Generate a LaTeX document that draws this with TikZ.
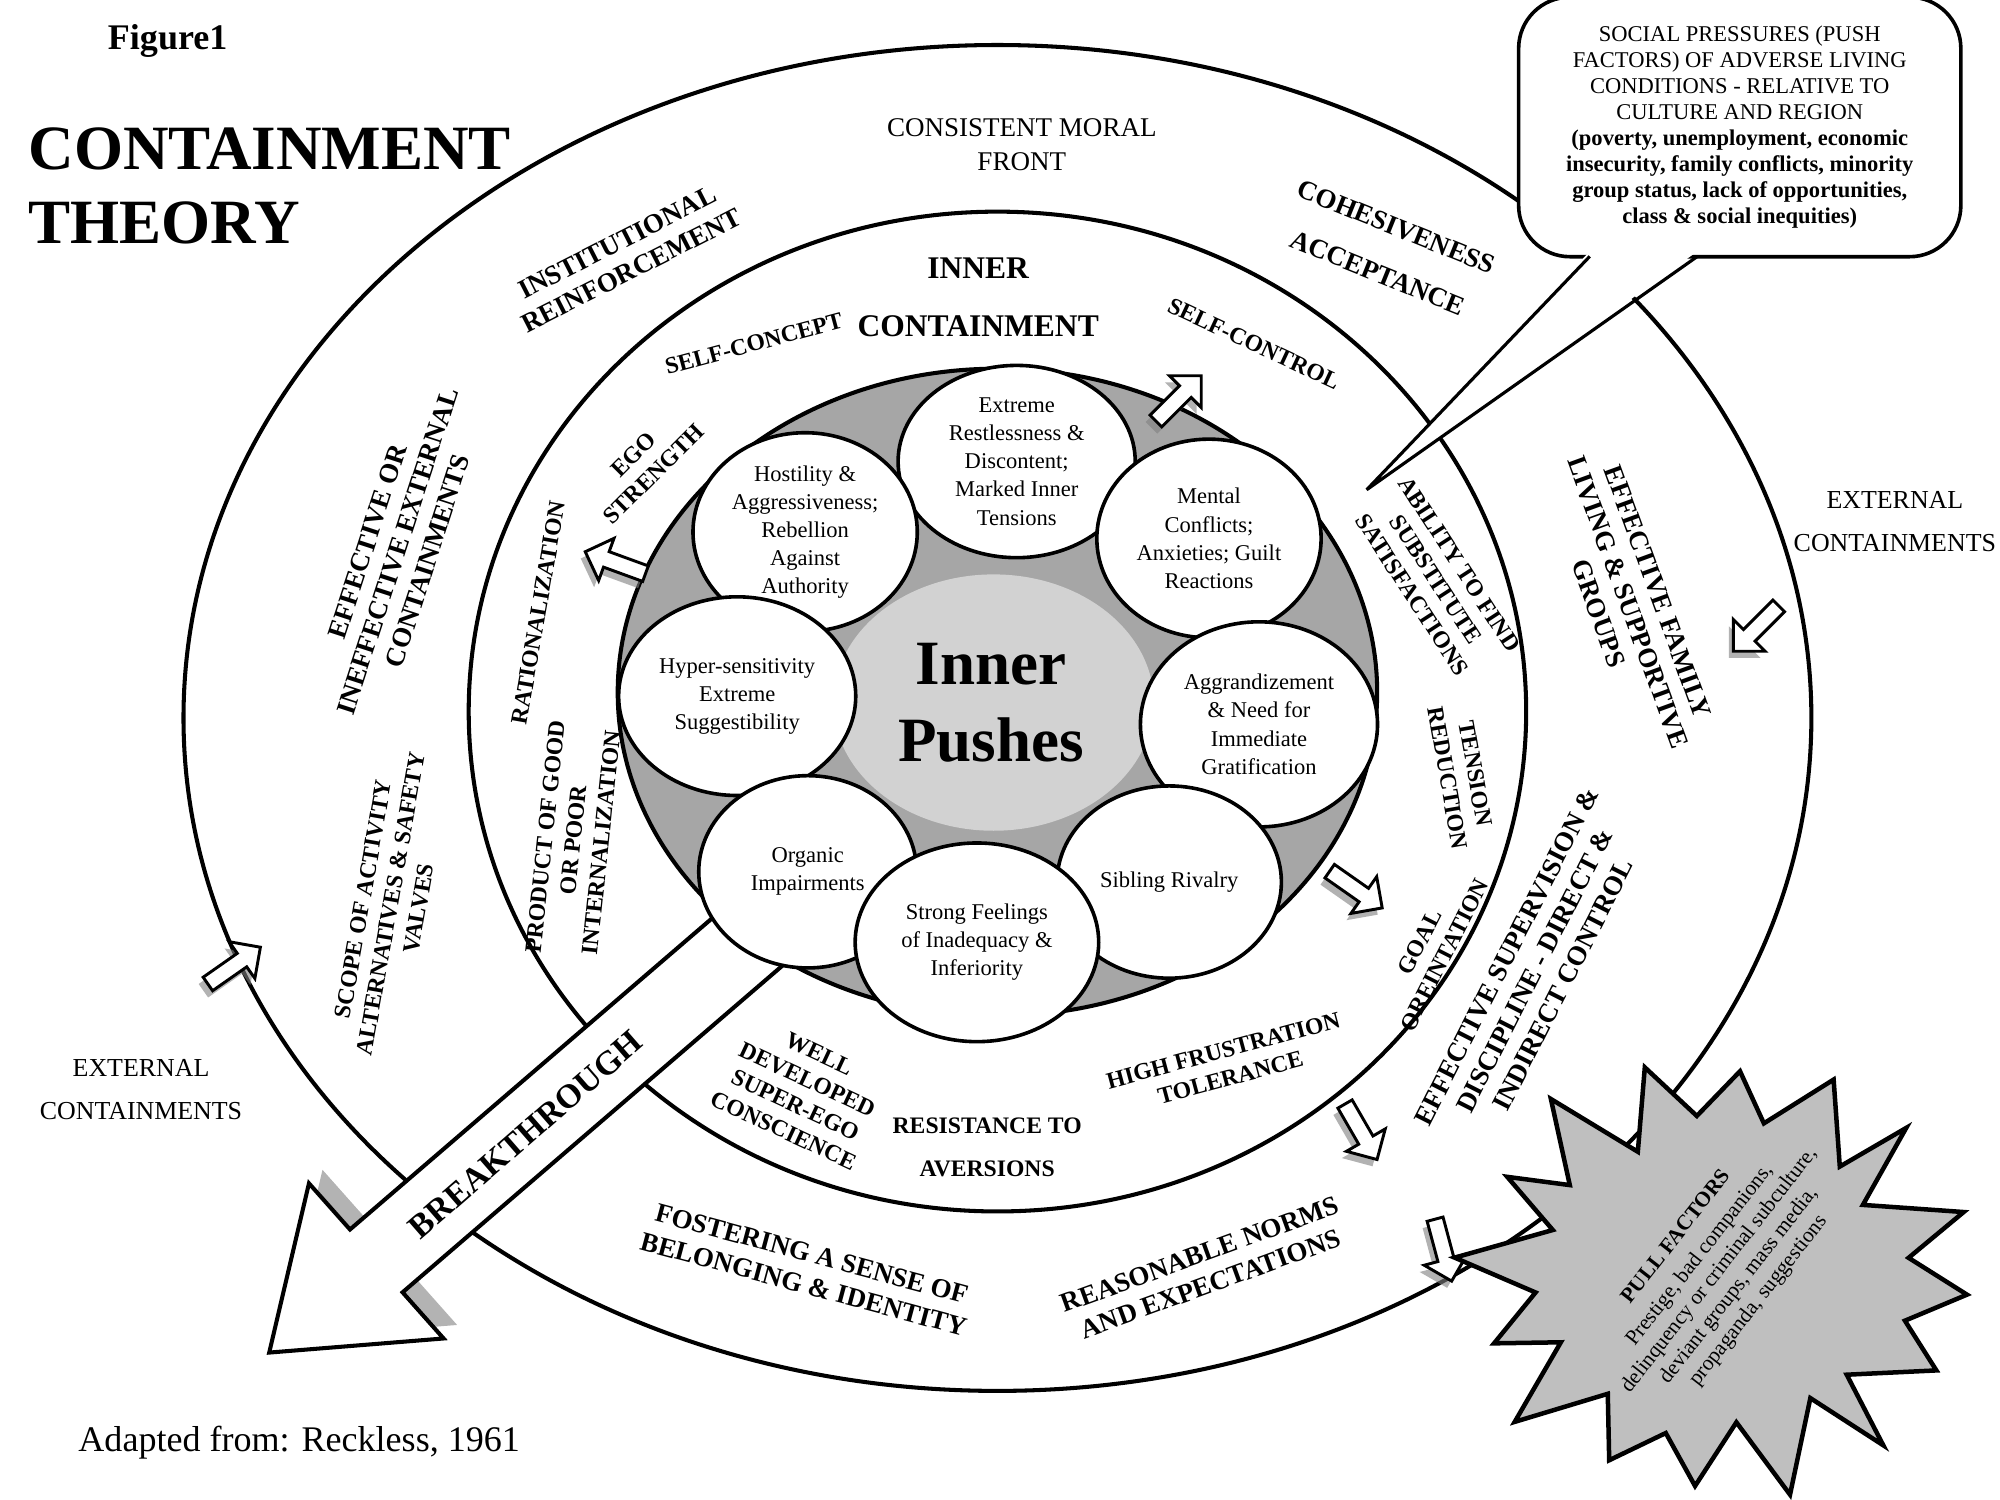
\documentclass[tikz,border=0pt]{standalone}
\usepackage{fontspec}
\setmainfont{Liberation Serif}
\usetikzlibrary{shapes.geometric,shapes.arrows,shadows}

\tikzset{
  ring/.style={draw, ellipse, line width=1.8pt, fill=white, inner sep=0pt},
  bubble/.style={draw, ellipse, line width=1.6pt, fill=white, inner sep=0pt,
    align=center, font=\fontsize{10}{12.5}\selectfont},
  tag/.style={align=center, font=\bfseries\fontsize{10.5}{12.5}\selectfont},
  bigtag/.style={align=center, font=\bfseries\fontsize{12}{14}\selectfont},
  outside/.style={align=center, font=\fontsize{11.5}{19}\selectfont},
  hollow/.style={draw, single arrow, fill=white, line width=1.3pt,
    minimum height=1cm, minimum width=0.7cm, single arrow head extend=0.1cm,
    inner sep=1pt, drop shadow={opacity=0.6, shadow xshift=-2pt, shadow yshift=-3pt}},
}

\begin{document}
\begin{tikzpicture}[x=0.02cm, y=-0.02cm]
\useasboundingbox (0,0) rectangle (1560,1170);

% title
\node[anchor=west, font=\bfseries\fontsize{16}{18}\selectfont] (fig) at (78,32) {Figure1};
\node[anchor=west, align=left, font=\bfseries\fontsize{28}{33}\selectfont] (title) at (16,145) {CONTAINMENT\\THEORY};
\node[anchor=west, font=\fontsize{16}{18}\selectfont] (src) at (55,1125) {Adapted from: Reckless, 1961};

% rings
\node[ring, minimum width=25.4cm, minimum height=21cm] (outer) at (778,560) {};
\node[ring, minimum width=16.5cm, minimum height=15.6cm] (middle) at (778,555) {};
\node[ring, fill=gray!70, minimum width=11.85cm, minimum height=10.1cm] (core) at (778,540) {};
\node[ring, fill=gray!35, draw=none, minimum width=5cm, minimum height=4cm] (center) at (775,548) {};

% breakthrough
\draw[line width=1.8pt, fill=white, drop shadow={opacity=0.6, shadow xshift=6pt, shadow yshift=6pt}]
  (579,696) -- (273,959) -- (241,923) -- (210,1055) -- (346,1044) -- (314,1008) -- (621,744) -- cycle;
\node[tag, font=\bfseries\fontsize{15}{17}\selectfont, rotate=41] (brk) at (410,885) {BREAKTHROUGH};

% inner pushes
\node[font=\bfseries\fontsize{28}{34}\selectfont, align=center] (pushes) at (773,548) {Inner\\Pushes};
\node[bubble, minimum width=3.7cm, minimum height=3cm] (restless) at (793,360) {Extreme\\Restlessness \&\\Discontent;\\Marked Inner\\Tensions};
\node[bubble, minimum width=3.5cm, minimum height=3.1cm] (hostile) at (628,415) {Hostility \&\\Aggressiveness;\\Rebellion\\Against\\Authority};
\node[bubble, minimum width=3.5cm, minimum height=3.1cm] (mental) at (943,420) {Mental\\Conflicts;\\Anxieties; Guilt\\Reactions};
\node[bubble, minimum width=3.7cm, minimum height=3.1cm] (hyper) at (575,543) {Hyper-sensitivity\\Extreme\\Suggestibility};
\node[bubble, minimum width=3.7cm, minimum height=3.2cm] (grand) at (982,565) {Aggrandizement\\\& Need for\\Immediate\\Gratification};
\node[bubble, minimum width=3.4cm, minimum height=3cm] (organic) at (630,680) {Organic\\Impairments};
\node[bubble, minimum width=3.5cm, minimum height=3cm] (sibling) at (912,688) {Sibling Rivalry};
\node[bubble, minimum width=3.8cm, minimum height=3.1cm] (feelings) at (762,735) {Strong Feelings\\of Inadequacy \&\\Inferiority};

% inner containment
\node[bigtag, font=\bfseries\fontsize{14}{26}\selectfont] (inner) at (763,232) {INNER\\CONTAINMENT};
\node[tag, rotate=15] (selfconcept) at (588,268) {SELF-CONCEPT};
\node[tag, rotate=-25] (selfcontrol) at (978,268) {SELF-CONTROL};
\node[tag, rotate=45] (ego) at (502,362) {EGO\\STRENGTH};
\node[tag, rotate=80] (ration) at (420,478) {RATIONALIZATION};
\node[tag, rotate=84] (product) at (447,655) {PRODUCT OF GOOD\\OR POOR\\INTERNALIZATION};
\node[tag, rotate=-57] (ability) at (1120,452) {ABILITY TO FIND\\SUBSTITUTE\\SATISFACTIONS};
\node[tag, rotate=-80] (tension) at (1140,605) {TENSION\\REDUCTION};
\node[tag, rotate=63] (goal) at (1117,740) {GOAL\\OREINTATION};
\node[tag, rotate=15] (frustr) at (957,830) {HIGH FRUSTRATION\\TOLERANCE};
\node[tag, font=\bfseries\fontsize{10.5}{19}\selectfont] (resist) at (770,895) {RESISTANCE TO\\AVERSIONS};
\node[tag, rotate=-25] (superego) at (625,852) {WELL\\DEVELOPED\\SUPER-EGO\\CONSCIENCE};

% external containment
\node[tag, font=\fontsize{12}{15}\selectfont] (moral) at (797,113) {CONSISTENT MORAL\\FRONT};
\node[bigtag, rotate=27] (instit) at (487,200) {INSTITUTIONAL\\REINFORCEMENT};
\node[bigtag, rotate=-22, font=\bfseries\fontsize{12}{22}\selectfont] (cohes) at (1082,195) {COHESIVENESS\\ACCEPTANCE};
\node[bigtag, rotate=72] (effective) at (310,430) {EFFECTIVE OR\\INEFFECTIVE EXTERNAL\\CONTAINMENTS};
\node[tag, rotate=80] (scope) at (305,705) {SCOPE OF ACTIVITY\\ALTERNATIVES \& SAFETY\\VALVES};
\node[bigtag, rotate=-70] (family) at (1270,470) {EFFECTIVE FAMILY\\LIVING \& SUPPORTIVE\\GROUPS};
\node[bigtag, rotate=63] (superv) at (1197,757) {EFFECTIVE SUPERVISION \&\\DISCIPLINE - DIRECT \&\\INDIRECT CONTROL};
\node[bigtag, rotate=-15] (foster) at (630,990) {FOSTERING A SENSE OF\\BELONGING \& IDENTITY};
\node[bigtag, rotate=20] (norms) at (940,990) {REASONABLE NORMS\\AND EXPECTATIONS};

\node[outside] (extright) at (1478,407) {EXTERNAL\\CONTAINMENTS};
\node[outside] (extleft) at (110,850) {EXTERNAL\\CONTAINMENTS};

% hollow arrows
\node[hollow, rotate=45] (a1) at (917,313) {};
\node[hollow, rotate=160] (a2) at (483,440) {};
\node[hollow, rotate=-35] (a3) at (1055,692) {};
\node[hollow, rotate=-60] (a4) at (1060,880) {};
\node[hollow, rotate=-75] (a5) at (1125,972) {};
\node[hollow, rotate=-135] (a6) at (1372,488) {};
\node[hollow, rotate=35] (a7) at (180,755) {};

% social pressures
\node[draw, line width=1.6pt, fill=white, rounded corners=0.8cm, minimum width=6.9cm, minimum height=4.05cm,
  align=center, font=\fontsize{10}{11.5}\selectfont] (social) at (1357,99)
  {SOCIAL PRESSURES (PUSH\\FACTORS) OF ADVERSE LIVING\\CONDITIONS - RELATIVE TO\\CULTURE AND REGION\\
   \textbf{(poverty, unemployment, economic}\\\textbf{insecurity, family conflicts, minority}\\
   \textbf{group status, lack of opportunities,}\\\textbf{class \& social inequities)}};
\coordinate (tip) at (1066,382);
\fill[white] (1240,196) -- (tip) -- (1324,196) -- cycle;
\draw[line width=1.4pt] (1240,200) -- (tip) -- (1324,200);

% pull factors
\draw[line width=2pt, fill=gray!50]
  plot[samples at={0,...,31}] ({1340+(140+55*(1-mod(\x,2))+12*sin(\x*97))*cos(\x*11.25+5)},
                               {995+(118+52*(1-mod(\x,2))+10*sin(\x*131))*sin(\x*11.25+5)}) -- cycle;
\node[align=center, rotate=52, font=\fontsize{9.5}{11}\selectfont] (pull) at (1340,990)
  {\textbf{PULL FACTORS}\\[2pt]Prestige, bad companions,\\delinquency or criminal subculture,\\deviant groups, mass media,\\propaganda, suggestions};
\end{tikzpicture}
\end{document}
